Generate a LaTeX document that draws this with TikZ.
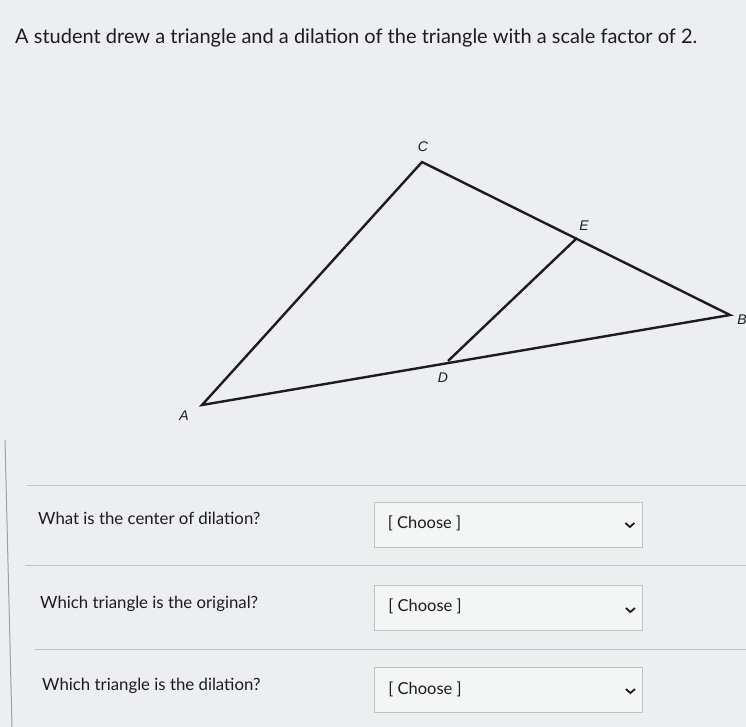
\documentclass[tikz,border=0pt]{standalone}
\usepackage{fontspec}
\setmainfont{Lato}
\newfontfamily\ptfont{Liberation Sans}
\usepackage{xcolor}
\usepackage{tikz}
\usetikzlibrary{positioning}
\definecolor{pagebg}{rgb}{0.925,0.933,0.937}
\definecolor{inkc}{rgb}{0.11,0.11,0.12}
\definecolor{rulec}{rgb}{0.74,0.76,0.77}
\tikzset{
    ttext/.style = {anchor=base west, inner sep=0pt, text=inkc, font=\fontsize{20}{24}\selectfont},
    qtext/.style = {anchor=base west, inner sep=0pt, text=inkc, font=\fontsize{16.8}{20}\selectfont},
    ptlabel/.style = {inner sep=0pt, text=inkc, font=\ptfont\itshape\fontsize{14}{16}\selectfont},
    tri/.style = {draw=inkc, line width=2.4pt, line join=miter}
}
\tikzset{
    ddbox/.style = {draw=rulec, fill=pagebg!60!white, line width=0.8pt, minimum width=268pt, minimum height=45pt, inner sep=0pt},
    choose/.style = {anchor=west, inner sep=0pt, text=inkc, font=\fontsize{16.5}{19}\selectfont},
    chev/.style = {draw=inkc, line width=1.8pt},
    sep/.style = {draw=rulec, line width=0.9pt}
}
\begin{document}
\begin{tikzpicture}
            [x=1pt, y=-1pt]

            \useasboundingbox (0,0) rectangle (746,727);
            \fill[pagebg] (0,0) rectangle (746,727);

            \node[ttext] (title) at (15,44) {A student drew a triangle and a dilation of the triangle with a scale factor of 2.};

            % triangle and its dilation
            \coordinate (A) at (202,405);
            \coordinate (C) at (422,162);
            \coordinate (B) at (730,315);
            \coordinate (D) at (448,361);
            \coordinate (E) at (577,238);
            \draw[tri] (A) -- (C) -- (B) -- cycle;
            \draw[tri] (D) -- (E);

            \node[ptlabel] (lblA) at (184,416) {A};
            \node[ptlabel] (lblC) at (423,147) {C};
            \node[ptlabel] (lblB) at (742,320) {B};
            \node[ptlabel] (lblD) at (443,378) {D};
            \node[ptlabel] (lblE) at (584,226) {E};

            % questions
            \draw[rulec!80!inkc, line width=1pt] (5,440) -- (12,727);
            \draw[sep] (27,485) -- (746,485);
            \draw[sep] (25,565) -- (746,565);
            \draw[sep] (35,649) -- (746,649);

            \node[qtext] (q1) at (38,524) {What is the center of dilation?};
            \node[qtext] (q2) at (40,608) {Which triangle is the original?};
            \node[qtext] (q3) at (42,690) {Which triangle is the dilation?};

            \node[ddbox] (box1) at (508,524.5) {};
            \node[ddbox] (box2) at (508.5,608) {};
            \node[ddbox] (box3) at (508.5,690) {};

            \node[choose] (ch1) at ([xshift=14pt,yshift=1pt]box1.west) {[ Choose ]};
            \node[choose] (ch2) at ([xshift=14pt,yshift=2pt]box2.west) {[ Choose ]};
            \node[choose] (ch3) at ([xshift=14pt,yshift=1pt]box3.west) {[ Choose ]};

            \draw[chev] ([xshift=-17pt,yshift=1.5pt]box1.east) -- ++(4.5,4) -- ++(4.5,-4);
            \draw[chev] ([xshift=-17pt,yshift=0pt]box2.east) -- ++(4.5,4) -- ++(4.5,-4);
            \draw[chev] ([xshift=-17pt,yshift=1pt]box3.east) -- ++(4.5,4) -- ++(4.5,-4);
\end{tikzpicture}
\end{document}
